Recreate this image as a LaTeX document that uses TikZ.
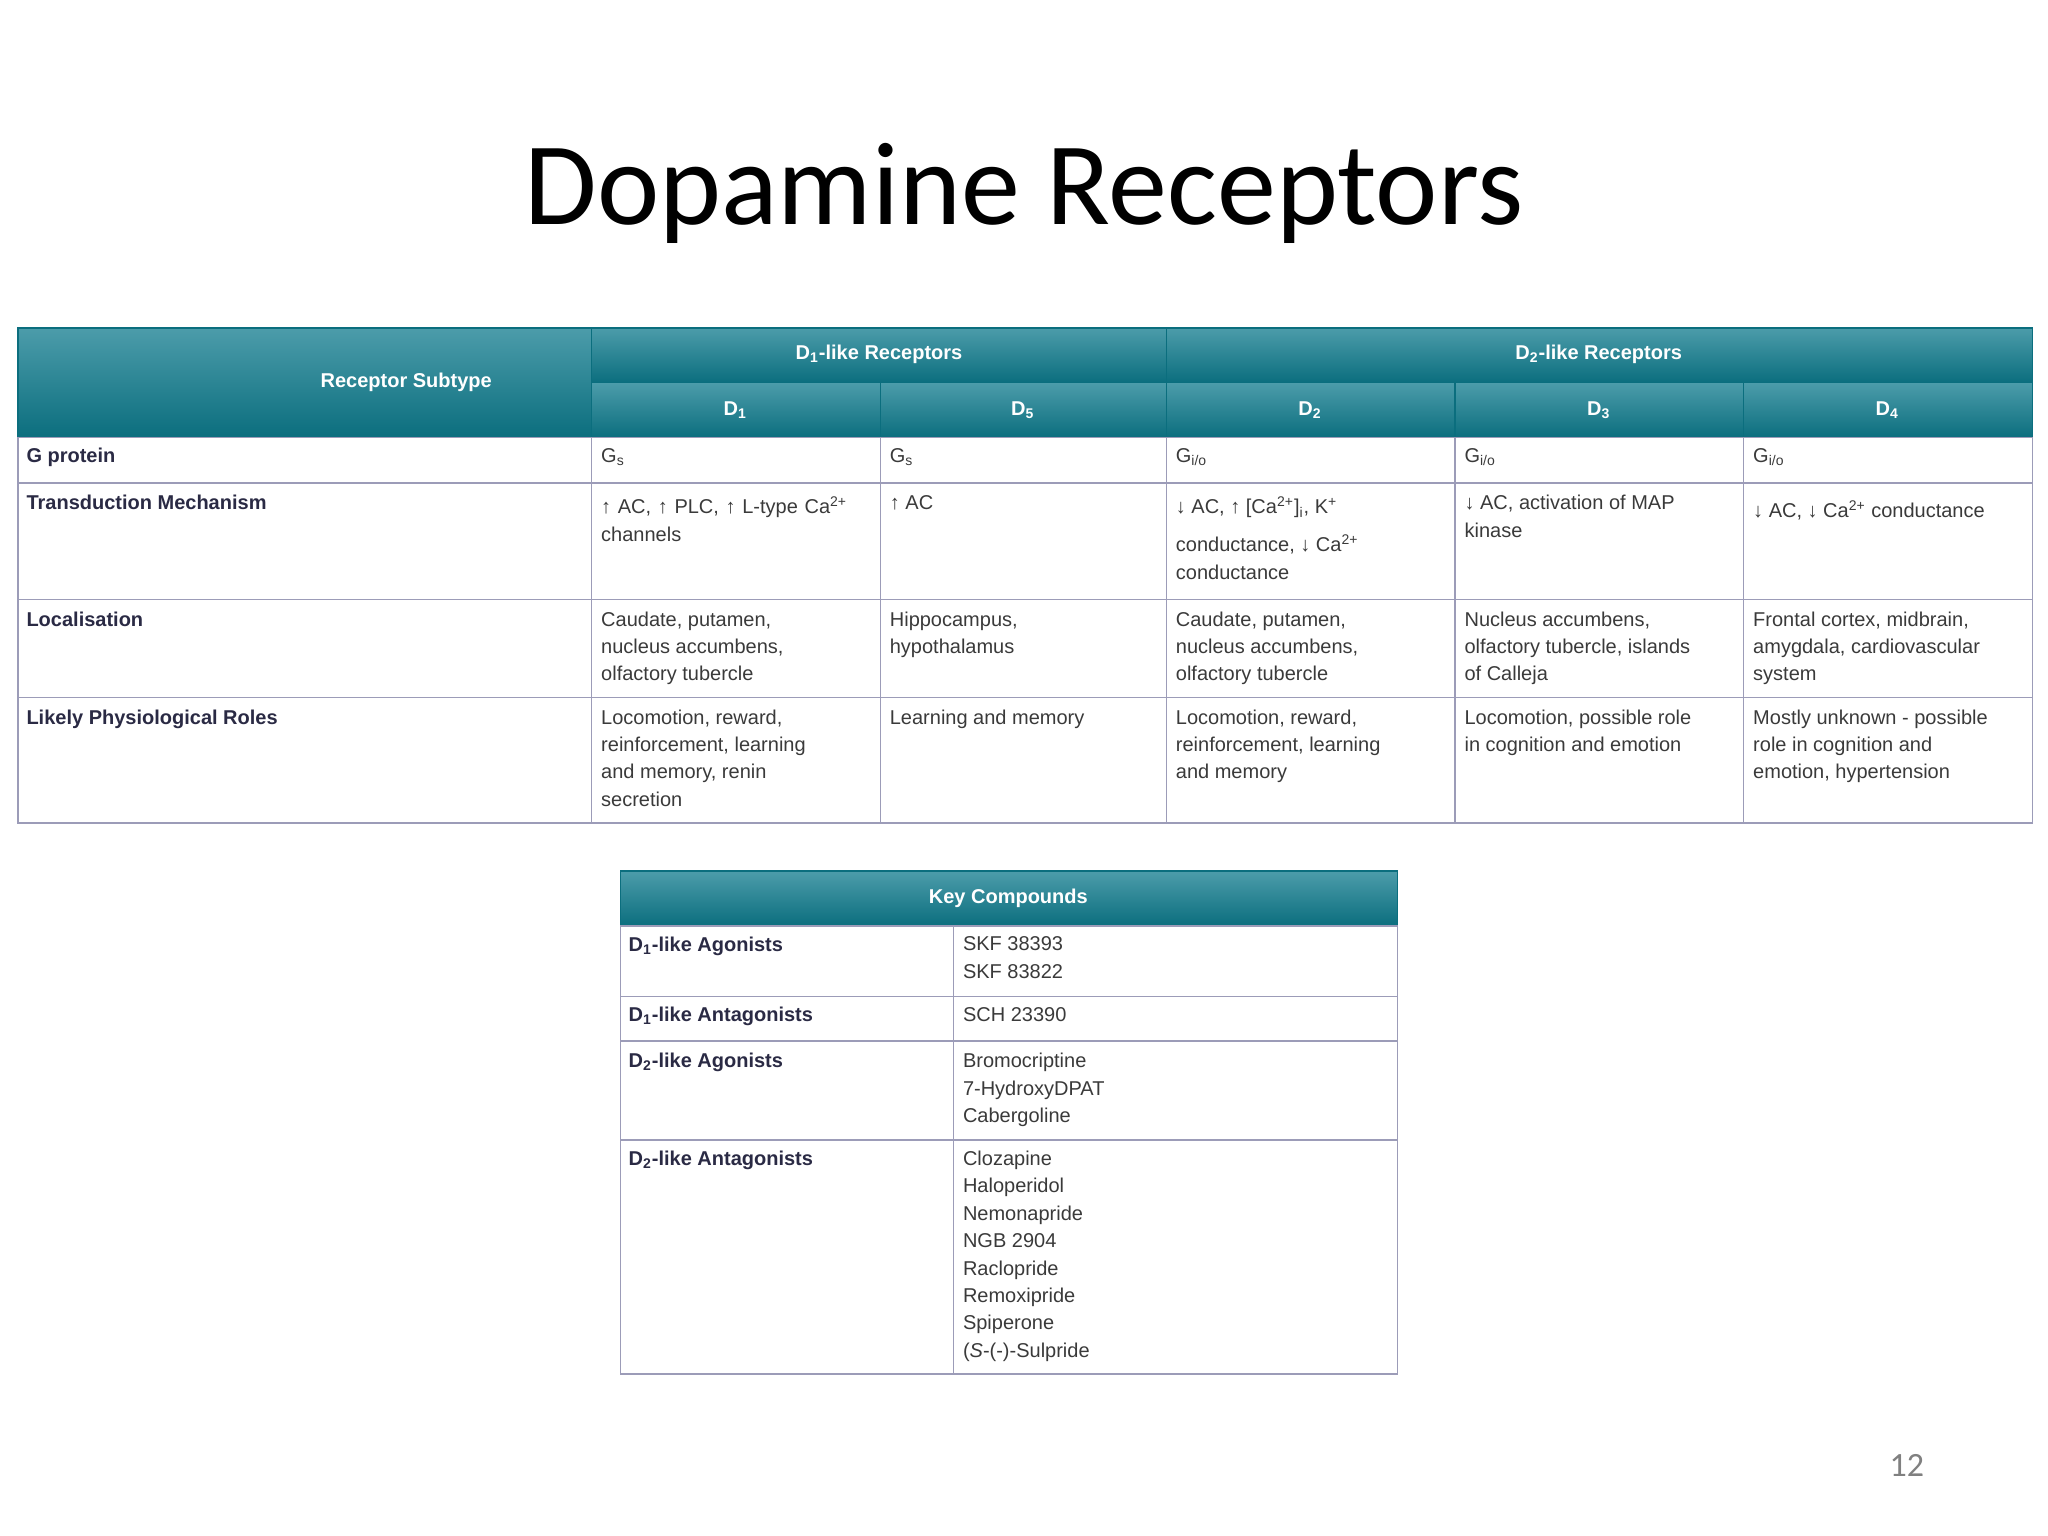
\documentclass[tikz,border=0pt]{standalone}
\usepackage{fontspec}
\setmainfont{Liberation Sans}
\newfontfamily\titlefont{Carlito}
\definecolor{hdtop}{HTML}{4C9CAA}
\definecolor{hdbot}{HTML}{0B6E7E}
\definecolor{grid}{HTML}{9C9CB8}
\definecolor{txt}{HTML}{3A3A3A}
\definecolor{lab}{HTML}{2A2A44}
\newcommand{\sub}[1]{\textsubscript{#1}}
\newcommand{\sups}[1]{\textsuperscript{#1}}
\begin{document}
\begin{tikzpicture}[x=0.6531pt,y=-0.6531pt,
  hd/.style={top color=hdtop,bottom color=hdbot,draw=hdbot,line width=0.8pt},
  gl/.style={draw=grid,line width=0.8pt},
  ht/.style={text=white,font=\bfseries\fontsize{10}{12}\selectfont},
  ct/.style={anchor=north west,inner sep=0pt,align=left,text=txt,font=\fontsize{10}{13.7}\selectfont},
  lt/.style={anchor=north west,inner sep=0pt,align=left,text=lab,font=\bfseries\fontsize{10}{13.7}\selectfont}]
\useasboundingbox (0,0) rectangle (1568,1176);
\node[font=\titlefont\fontsize{59}{66}\selectfont] (title) at (784,148) {Dopamine Receptors};
\node[text=gray,font=\titlefont\fontsize{17}{20}\selectfont] (pnum) at (1460,1122) {12};
% table 1 header
\path[hd] (14,251) rectangle (453,335);
\path[hd] (453,251) rectangle (893,293);
\path[hd] (893,251) rectangle (1556,293);
\foreach \a/\b in {453/674,674/893,893/1114,1114/1335,1335/1556}{\path[hd] (\a,293) rectangle (\b,335);}
\node[ht] (rs) at (311,293) {Receptor Subtype};
\node[ht] (d1l) at (673,271) {D\sub{1}-like Receptors};
\node[ht] (d2l) at (1224,271) {D\sub{2}-like Receptors};
\node[ht] (h1) at (563,314) {D\sub{1}};
\node[ht] (h5) at (783,314) {D\sub{5}};
\node[ht] (h2) at (1003,314) {D\sub{2}};
\node[ht] (h3) at (1224,314) {D\sub{3}};
\node[ht] (h4) at (1445,314) {D\sub{4}};
% table 1 body grid
\draw[gl] (14,335) rectangle (1556,630);
\foreach \y in {370,459,534}{\draw[gl] (14,\y) -- (1556,\y);}
\foreach \x in {453,674,893,1114,1335}{\draw[gl] (\x,335) -- (\x,630);}
% labels
\node[lt] (l1) at (20,343) {G protein};
\node[lt] (l2) at (20,379) {Transduction Mechanism};
\node[lt] (l3) at (20,468) {Localisation};
\node[lt] (l4) at (20,543) {Likely Physiological Roles};
% G protein
\node[ct] (g1) at (460,343) {G\sub{s}};
\node[ct] (g5) at (681,343) {G\sub{s}};
\node[ct] (g2) at (900,343) {G\sub{i/o}};
\node[ct] (g3) at (1121,343) {G\sub{i/o}};
\node[ct] (g4) at (1342,343) {G\sub{i/o}};
% transduction
\node[ct,text width=205pt*0.6531] (t1) at (460,380) {↑ AC, ↑ PLC, ↑ L-type Ca\sups{2+}\\channels};
\node[ct] (t5) at (681,379) {↑ AC};
\node[ct,font=\fontsize{10}{19}\selectfont] (t2) at (900,380) {↓ AC, ↑ [Ca\sups{2+}]\sub{i}, K\sups{+}\\conductance, ↓ Ca\sups{2+}\\[-5pt]conductance};
\node[ct] (t3) at (1121,379) {↓ AC, activation of MAP\\kinase};
\node[ct] (t4) at (1342,383) {↓ AC, ↓ Ca\sups{2+} conductance};
% localisation
\node[ct] (c1) at (460,468) {Caudate, putamen,\\nucleus accumbens,\\olfactory tubercle};
\node[ct] (c5) at (681,468) {Hippocampus,\\hypothalamus};
\node[ct] (c2) at (900,468) {Caudate, putamen,\\nucleus accumbens,\\olfactory tubercle};
\node[ct] (c3) at (1121,468) {Nucleus accumbens,\\olfactory tubercle, islands\\of Calleja};
\node[ct] (c4) at (1342,468) {Frontal cortex, midbrain,\\amygdala, cardiovascular\\system};
% roles
\node[ct] (r1) at (460,543) {Locomotion, reward,\\reinforcement, learning\\and memory, renin\\secretion};
\node[ct] (r5) at (681,543) {Learning and memory};
\node[ct] (r2) at (900,543) {Locomotion, reward,\\reinforcement, learning\\and memory};
\node[ct] (r3) at (1121,543) {Locomotion, possible role\\in cognition and emotion};
\node[ct] (r4) at (1342,543) {Mostly unknown - possible\\role in cognition and\\emotion, hypertension};
% table 2
\path[hd] (475,667) rectangle (1070,709);
\node[ht] (kc) at (772,688) {Key Compounds};
\draw[gl] (475,709) rectangle (1070,1052);
\foreach \y in {763,797,873}{\draw[gl] (475,\y) -- (1070,\y);}
\draw[gl] (730,709) -- (730,1052);
\node[lt] (k1) at (481,717) {D\sub{1}-like Agonists};
\node[lt] (k2) at (481,771) {D\sub{1}-like Antagonists};
\node[lt] (k3) at (481,806) {D\sub{2}-like Agonists};
\node[lt] (k4) at (481,881) {D\sub{2}-like Antagonists};
\node[ct] (v1) at (737,717) {SKF 38393\\SKF 83822};
\node[ct] (v2) at (737,771) {SCH 23390};
\node[ct] (v3) at (737,806) {Bromocriptine\\7-HydroxyDPAT\\Cabergoline};
\node[ct] (v4) at (737,881) {Clozapine\\Haloperidol\\Nemonapride\\NGB 2904\\Raclopride\\Remoxipride\\Spiperone\\(\textit{S}-(-)-Sulpride};
\end{tikzpicture}
\end{document}
